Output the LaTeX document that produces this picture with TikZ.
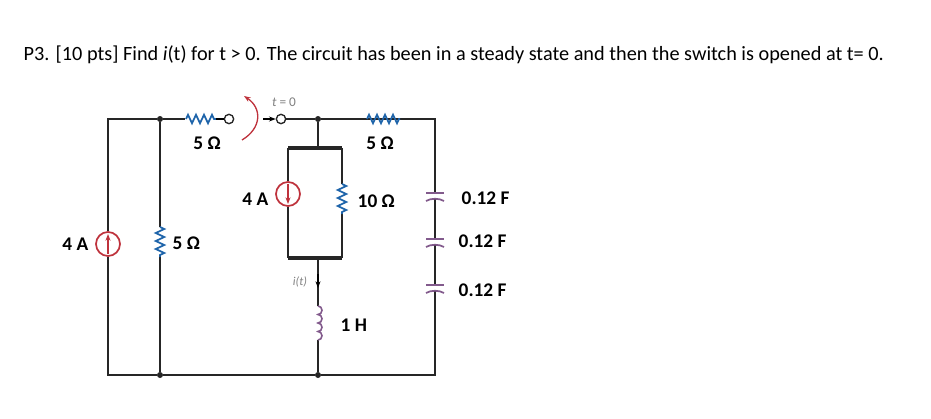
\documentclass[tikz,border=0pt]{standalone}
\usepackage{fontspec}
\setmainfont{Carlito}
\usetikzlibrary{decorations.pathmorphing,arrows.meta}
\definecolor{rblue}{RGB}{30,100,170}
\definecolor{sred}{RGB}{190,50,60}
\definecolor{cpur}{RGB}{130,90,140}
\begin{document}
\begin{tikzpicture}[x=0.75pt,y=-0.75pt,
  wire/.style={line width=2pt,black!85},
  res/.style={rblue,line width=1.3pt,decorate,decoration={zigzag,amplitude=3.2pt,segment length=6pt}},
  src/.style={circle,draw=sred,line width=1.3pt,minimum size=18pt,inner sep=0pt},
  lab/.style={font=\bfseries\fontsize{14.5}{16}\selectfont},
  dot/.style={circle,fill=black!85,inner sep=0pt,minimum size=4.5pt},
  term/.style={circle,draw=black!85,fill=white,line width=1pt,inner sep=0pt,minimum size=7pt},
  capline/.style={cpur,line width=1.3pt}]
\useasboundingbox (0,0) rectangle (931,418);
\node[anchor=west,font=\fontsize{15.2}{17}\selectfont] (title) at (19,55) {P3. [10 pts] Find \textit{i}(t) for t > 0. The circuit has been in a steady state and then the switch is opened at t= 0.};
% coordinates
\coordinate (tl) at (108,119); \coordinate (bl) at (108,375);
\node[dot] (j1) at (160,119) {}; \node[dot] (j1b) at (160,375) {};
\node[dot] (j2) at (318,119) {}; \node[dot] (j2b) at (318,375) {};
\coordinate (tr) at (435,119); \coordinate (br) at (435,375);
% left source
\node[src] (s1) at (108,244) {};
\draw[sred,line width=1.2pt,-{Stealth[length=5pt]}] (108,254) -- (108,234);
\node[lab,anchor=east] (l1) at (93,244) {4 A};
\draw[wire] (s1.south) -- (bl) -- (j1b) -- (j2b) -- (br) -- (tr) -- (j2);
\draw[wire] (s1.north) -- (tl) -- (j1) -- (185,119);
% 5 ohm vertical
\coordinate (r2a) at (160,227); \coordinate (r2b) at (160,257);
\draw[wire] (j1) -- (r2a); \draw[wire] (r2b) -- (j1b);
\draw[res] (r2a) -- (r2b);
\node[lab,anchor=west] (l2) at (168,243) {5 Ω};
% top 5 ohm
\coordinate (r1a) at (186,119); \coordinate (r1b) at (216,119);
\draw[res] (r1a) -- (r1b);
\node[term] (sw1) at (229,119) {}; \node[term] (sw2) at (281,119) {};
\draw[line width=1.2pt] (r1b) -- (sw1);
\draw[line width=1.2pt,-{Stealth[length=5pt]}] (263,119) -- (sw2.west);
\draw[wire] (sw2) -- (j2);
\draw[sred,line width=1pt,-{Stealth[length=5pt]}] (242,140) .. controls (262,128) and (262,108) .. (244,96);
\node[font=\fontsize{10}{11}\selectfont,gray] (t0) at (284,102) {\textit{t} = 0};
\node[lab] (l3) at (207,143) {5 Ω};
% middle
\coordinate (mt) at (318,148); \coordinate (ml) at (288,148); \coordinate (mr) at (342,148);
\coordinate (bbl) at (288,258); \coordinate (bbr) at (342,258); \coordinate (bm) at (318,258);
\draw[wire] (j2) -- (mt); \draw[wire,line width=2.6pt] (ml) -- (mr);
\draw[wire,line width=2.6pt] (bbl) -- (bbr);
\node[src] (s2) at (288,194) {};
\draw[sred,line width=1.2pt,-{Stealth[length=5pt]}] (288,184) -- (288,204);
\draw[wire] (ml) -- (s2.north); \draw[wire] (s2.south) -- (bbl);
\node[lab,anchor=east] (l4) at (273,199) {4 A};
\coordinate (r3a) at (342,184); \coordinate (r3b) at (342,214);
\draw[wire] (mr) -- (r3a); \draw[wire] (r3b) -- (bbr);
\draw[res] (r3a) -- (r3b);
\node[lab,anchor=west] (l5) at (353,201) {10 Ω};
% top right resistor
\coordinate (r4a) at (367,119); \coordinate (r4b) at (400,119);
\draw[wire] (j2) -- (r4a); \draw[wire] (r4b) -- (tr);
\draw[res] (r4a) -- (r4b);
\node[lab] (l6) at (380,143) {5 Ω};
% inductor branch
\coordinate (la) at (318,306); \coordinate (lb) at (318,340);
\draw[wire] (bm) -- (la); \draw[wire] (lb) -- (j2b);
\draw[line width=1.2pt,-{Stealth[length=5pt]}] (318,274) -- (318,288);
\node[font=\fontsize{9}{10}\selectfont\itshape,gray] (it) at (300,282) {i(t)};
\draw[cpur,line width=1.2pt] (la) \foreach \k in {0,1,2,3} { arc (-90:90:4 and 4.25) };
\node[lab,anchor=west] (l7) at (336,325) {1 H};
% capacitors
\foreach \y in {196,242,288}{
  \draw[white,line width=3pt] (435,\y-3) -- (435,\y+3);
  \draw[capline] (426,\y-3) -- (444,\y-3);
  \draw[capline] (426,\y+5) .. controls (431,\y+2) and (439,\y+2) .. (444,\y+5);
}
\node[lab,anchor=west] (c1l) at (457,198) {0.12 F};
\node[lab,anchor=west] (c2l) at (454,241) {0.12 F};
\node[lab,anchor=west] (c3l) at (454,290) {0.12 F};
\end{tikzpicture}
\end{document}
